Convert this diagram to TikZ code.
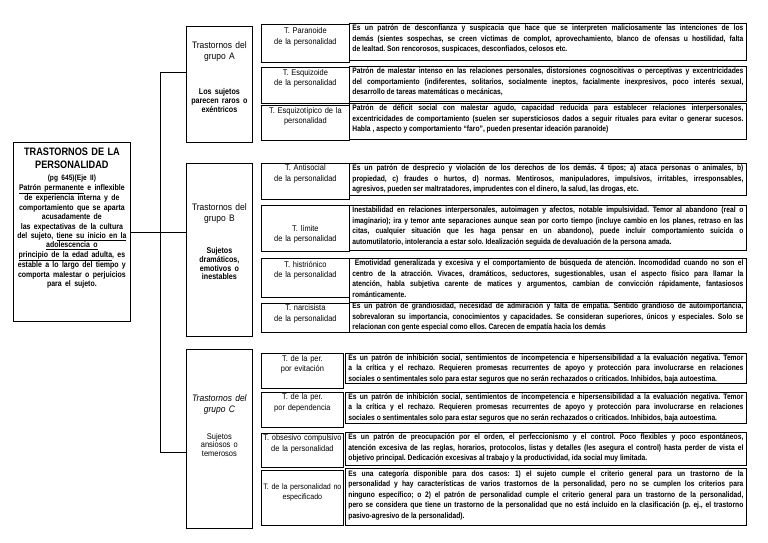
\documentclass[tikz,border=0pt]{standalone}
\usepackage{fontspec}
\setmainfont{Liberation Sans}
\newfontfamily\estrecha{Liberation Sans}[FakeStretch=0.85]
\newfontfamily\media{Liberation Sans}[FakeStretch=0.9]
\newcommand{\descfont}{\estrecha\bfseries\fontsize{7.9}{10.5}\selectfont}
\newcommand{\nombrefont}{\media\fontsize{8.3}{10.4}\selectfont}
\newcommand{\grupofont}{\media\fontsize{9.4}{10.6}\selectfont}
\hyphenpenalty=10000
\exhyphenpenalty=10000
\tolerance=10000
\hbadness=10000
\frenchspacing

\begin{document}
\begin{tikzpicture}
  [x=1pt, y=-1pt,
    every node/.style={draw, line width=0.8pt, anchor=north west, inner ysep=0pt},
    grupo/.style={text width=64pt, inner xsep=1pt, align=center},
    tipo/.style={text width=84pt, inner xsep=2pt, align=center, text height=8pt, font=\nombrefont},
    tipoC/.style={tipo, text width=81.5pt, inner xsep=0.25pt},
    desc/.style={text width=391pt, inner xsep=3pt, align=justify, text height=7.5pt, font=\descfont},
    descC/.style={desc, text width=395pt},
    conector/.style={line width=0.8pt},
  ]
  \fill[white] (0,0) rectangle (768,543);
  \useasboundingbox (0,0) rectangle (768,543);

  % caja principal
  \node[text width=113pt, inner xsep=2pt, align=center, text height=13pt, text depth=166pt, font=\estrecha\bfseries] (principal) at (13,142)
    {{\fontsize{10.8}{13.3}\selectfont TRASTORNOS DE LA\\PERSONALIDAD\par}
     {\fontsize{7.8}{12.2}\selectfont (pg 645)(Eje II)\par}
     {\fontsize{8.2}{9.4}\selectfont \underline{Patrón permanente} e inflexible\\de experiencia interna y de\\comportamiento que se aparta\\acusadamente de\\las expectativas de la cultura\\del sujeto, \underline{tiene su inicio en la}\\\underline{adolescencia o}\\\underline{principio de la edad adulta}, es\\estable a lo largo del tiempo y\\comporta malestar o perjuicios\\para el sujeto.\par}};

  % grupos
  \node[grupo, text height=22.5pt, text depth=93.5pt] (grA) at (186,26)
    {{\grupofont Trastornos del\\grupo A\par}\vspace{26pt}
     {\descfont\fontsize{8.4}{8.9}\selectfont Los sujetos\\parecen raros o\\exéntricos\par}};
  \node[grupo, text height=47pt, text depth=126pt] (grB) at (186,163)
    {{\grupofont Trastornos del\\grupo B\par}\vspace{24pt}
     {\descfont\fontsize{8.4}{8.7}\selectfont Sujetos\\dramáticos,\\emotivos o\\inestables\par}};
  \node[grupo, text height=52pt, text depth=127pt] (grC) at (186,349)
    {{\grupofont\itshape Trastornos del\\grupo C\par}\vspace{19pt}
     {\nombrefont\fontsize{8.3}{8.4}\selectfont Sujetos\\ansiosos o\\temerosos\par}};

  % grupo A
  \node[tipo, text height=9.5pt, text depth=28.5pt] (tParanoide) at (261,24) {T. Paranoide\\de la personalidad};
  \node[desc, text depth=29.5pt] (dParanoide) at (349,23)
    {Es un patrón de desconfianza y suspicacia que hace que se interpreten maliciosamente las intenciones de los\linebreak demás (sientes sospechas, se creen víctimas de complot, aprovechamiento, blanco de ofensas u hostilidad, falta\linebreak de lealtad. Son rencorosos, suspicaces, desconfiados, celosos etc.};
  \node[tipo, text depth=28pt] (tEsquizoide) at (261,67) {T. Esquizoide\\de la personalidad};
  \node[desc, text depth=27.5pt] (dEsquizoide) at (349,66)
    {Patrón de malestar intenso en las relaciones personales, distorsiones cognoscitivas o perceptivas y excentricidades\linebreak del comportamiento (indiferentes, solitarios, socialmente ineptos, facialmente inexpresivos, poco interés sexual,\linebreak desarrollo de tareas matemáticas o mecánicas,};
  \node[tipo, text depth=27pt] (tEsquizotipico) at (261,105) {T. Esquizotípico de la\\personalidad};
  \node[desc, text depth=28.5pt] (dEsquizotipico) at (349,103)
    {Patrón de déficit social con malestar agudo, capacidad reducida para establecer relaciones interpersonales,\linebreak excentricidades de comportamiento (suelen ser supersticiosos dados a seguir rituales para evitar o generar sucesos.\linebreak Habla , aspecto y comportamiento “faro”, pueden presentar ideación paranoide)};

  % grupo B
  \node[tipo, text height=7.5pt, text depth=28.5pt] (tAntisocial) at (261,163) {T. Antisocial\\de la personalidad};
  \node[desc, text depth=24.5pt] (dAntisocial) at (349,163)
    {Es un patrón de desprecio y violación de los derechos de los demás. 4 tipos; a) ataca personas o animales, b)\linebreak propiedad, c) fraudes o hurtos, d) normas. Mentirosos, manipuladores, impulsivos, irritables, irresponsables,\linebreak agresivos, pueden ser maltratadores, imprudentes con el dinero, la salud, las drogas, etc.};
  \node[tipo, text height=26pt, text depth=20pt] (tLimite) at (261,205) {T. límite\\de la personalidad};
  \node[desc, text depth=37.5pt] (dLimite) at (349,205)
    {Inestabilidad en relaciones interpersonales, autoimagen y afectos, notable impulsividad. Temor al abandono (real o\linebreak imaginario); ira y temor ante separaciones aunque sean por corto tiempo (incluye cambio en los planes, retraso en las\linebreak citas, cualquier situación que les haga pensar en un abandono), puede incluir comportamiento suicida o\linebreak automutilatorio, intolerancia a estar solo. Idealización seguida de devaluación de la persona amada.};
  \node[tipo, text height=9pt, text depth=30pt] (tHistrionico) at (261,258) {T. histriónico\\de la personalidad};
  \node[desc, text depth=36.5pt] (dHistrionico) at (349,258)
    {\hspace*{2.5pt}Emotividad generalizada y excesiva y el comportamiento de búsqueda de atención. Incomodidad cuando no son el\linebreak centro de la atracción. Vivaces, dramáticos, seductores, sugestionables, usan el aspecto físico para llamar la\linebreak atención, habla subjetiva carente de matices y argumentos, cambian de convicción rápidamente, fantasiosos\linebreak románticamente.};
  \node[tipo, text height=7.5pt, text depth=21.5pt] (tNarcisista) at (261,303) {T. narcisista\\de la personalidad};
  \node[desc, text height=6.5pt, text depth=23.5pt] (dNarcisista) at (349,302)
    {Es un patrón de grandiosidad, necesidad de admiración y falta de empatía. Sentido grandioso de autoimportancia,\linebreak sobrevaloran su importancia, conocimientos y capacidades. Se consideran superiores, únicos y especiales. Solo se\linebreak relacionan con gente especial como ellos. Carecen de empatía hacia los demás};

  % grupo C
  \node[tipoC, text depth=27pt] (tEvitacion) at (261,353) {T. de la per.\\por evitación};
  \node[descC, text height=7pt, text depth=23pt] (dEvitacion) at (345,353)
    {Es un patrón de inhibición social, sentimientos de incompetencia e hipersensibilidad a la evaluación negativa. Temor\linebreak a la crítica y el rechazo. Requieren promesas recurrentes de apoyo y protección para involucrarse en relaciones\linebreak sociales o sentimentales solo para estar seguros que no serán rechazados o criticados. Inhibidos, baja autoestima.};
  \node[tipoC, text height=7.5pt, text depth=27.5pt] (tDependencia) at (261,392) {T. de la per.\\por dependencia};
  \node[descC, text height=7pt, text depth=24pt] (dDependencia) at (345,392)
    {Es un patrón de inhibición social, sentimientos de incompetencia e hipersensibilidad a la evaluación negativa. Temor\linebreak a la crítica y el rechazo. Requieren promesas recurrentes de apoyo y protección para involucrarse en relaciones\linebreak sociales o sentimentales solo para estar seguros que no serán rechazados o criticados. Inhibidos, baja autoestima.};
  \node[tipoC, text height=7.5pt, text depth=26.5pt] (tObsesivo) at (261,433) {T. obsesivo compulsivo\\de la personalidad};
  \node[descC, text depth=25.5pt] (dObsesivo) at (345,432)
    {Es un patrón de preocupación por el orden, el perfeccionismo y el control. Poco flexibles y poco espontáneos,\linebreak atención excesiva de las reglas, horarios, protocolos, listas y detalles (les asegura el control) hasta perder de vista el\linebreak objetivo principal. Dedicación excesivas al trabajo y la productividad, ida social muy limitada.};
  \node[tipoC, text height=19pt, text depth=36pt, font=\media\fontsize{7.9}{10.4}\selectfont] (tNoEspecificado) at (261,470) {T. de la personalidad no\\especificado};
  \node[descC, text height=8pt, text depth=49pt] (dNoEspecificado) at (345,468)
    {Es una categoría disponible para dos casos: 1) el sujeto cumple el criterio general para un trastorno de la\linebreak personalidad y hay características de varios trastornos de la personalidad, pero no se cumplen los criterios para\linebreak ninguno específico; o 2) el patrón de personalidad cumple el criterio general para un trastorno de la personalidad,\linebreak pero se considera que tiene un trastorno de la personalidad que no está incluido en la clasificación (p. ej., el trastorno\linebreak pasivo-agresivo de la personalidad).};

  % conectores
  \coordinate (troncoA) at (160,72);
  \coordinate (troncoC) at (160,452);
  \draw[conector] (troncoA) -- (troncoC);
  \draw[conector] (troncoA) -- (troncoA -| grA.west);
  \draw[conector] (troncoC) -- (troncoC -| grC.west);
  \draw[conector] (principal.east) -- (principal.east -| grB.west);
\end{tikzpicture}
\end{document}
